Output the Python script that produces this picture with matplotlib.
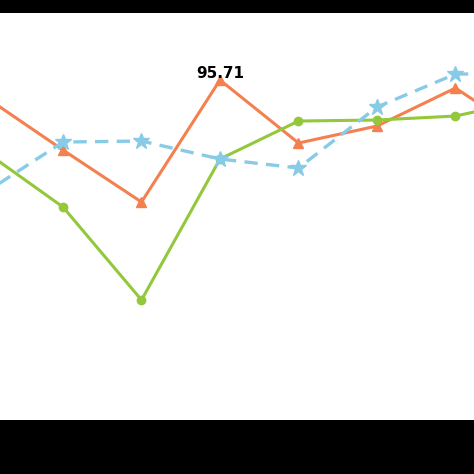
import matplotlib
matplotlib.use("Agg")
import matplotlib.pyplot as plt

x_idx = [0, 1, 2, 3, 4, 5, 6, 7]
series_a = [94.07, 88.71, 83.51, 95.71, 89.41, 91.11, 94.91, 89.71]   # orange, triangles
series_b = [88.61, 83.01, 73.71, 87.81, 91.61, 91.71, 92.11, 93.81]   # green, circles
series_c = [84.41, 89.51, 89.61, 87.81, 86.91, 93.01, 96.31, 96.31]   # blue, stars dashed
peak_label = "95.71"

fig = plt.figure(figsize=(4.74, 4.74), dpi=100, facecolor="black")
ax = fig.add_axes([0, 0.1139, 1, 0.8586])
ax.set_facecolor("white")

ax.plot(x_idx, series_a, color="#F4804F", lw=2.2, marker="^", ms=6.5, zorder=3)
ax.plot(x_idx, series_b, color="#92C83A", lw=2.2, marker="o", ms=6, zorder=3)
ax.plot(x_idx, series_c, color="#87CBE6", lw=2.4, ls="--", marker="*", ms=12,
        dashes=(4, 2.5), zorder=3)

imax = series_a.index(max(series_a[1:7]))
ax.annotate(peak_label, (x_idx[imax], series_a[imax]), xytext=(0, 1.5),
            textcoords="offset points", ha="center", va="baseline",
            fontsize=11, fontweight="bold", color="black")

ax.set_xlim(0.1975, 6.2357)
ax.set_ylim(61.71, 102.41)
ax.set_xticks([])
ax.set_yticks([])
for s in ax.spines.values():
    s.set_visible(False)

fig.savefig("out.png", dpi=100, facecolor="black")
